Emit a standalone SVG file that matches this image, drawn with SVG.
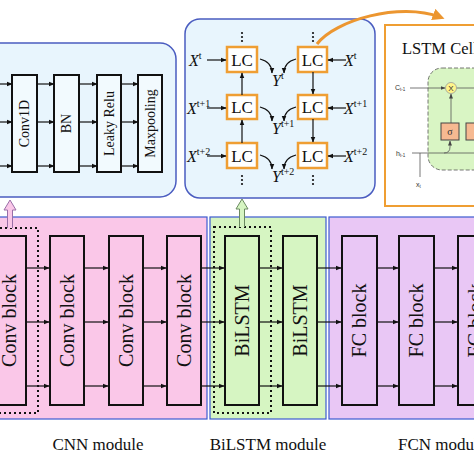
<svg xmlns="http://www.w3.org/2000/svg" width="474" height="474" viewBox="0 0 474 474">
<defs>
<marker id="ah" viewBox="0 0 10 10" refX="9" refY="5" markerWidth="6" markerHeight="6" orient="auto" markerUnits="userSpaceOnUse"><path d="M0,1 L10,5 L0,9 Z" fill="#111"/></marker>
<marker id="ahg" viewBox="0 0 10 10" refX="9" refY="5" markerWidth="5" markerHeight="5" orient="auto" markerUnits="userSpaceOnUse"><path d="M0,1 L10,5 L0,9 Z" fill="#444"/></marker>
<marker id="aho" viewBox="0 0 10 10" refX="6" refY="5" markerWidth="12" markerHeight="12" orient="auto" markerUnits="userSpaceOnUse"><path d="M0,0 L10,5 L0,10 Z" fill="#ec9630"/></marker>
</defs>
<style>
.serif{font-family:"Liberation Serif","Times New Roman",serif;fill:#111}
.panel{fill:#e8f5fd;stroke:#4a5cc0;stroke-width:1.5}
.mod{stroke:#3c5ad0;stroke-width:1.2}
.blk{stroke:#111;stroke-width:2}
.arr{stroke:#111;stroke-width:1.2;fill:none;marker-end:url(#ah)}
.lc{fill:#fff;stroke:#ef9e33;stroke-width:2.5}
.dot{fill:none;stroke:#111;stroke-width:2;stroke-dasharray:2 3}
.thin{stroke:#555;stroke-width:0.8;fill:none}
.sm{font-family:"Liberation Sans",Arial,sans-serif;font-size:7px;fill:#333}
</style>
<rect width="474" height="474" fill="#fff"/>

<g id="cnn-detail">
<rect class="panel" x="-20" y="43" width="196" height="154" rx="16"/>
<rect x="12" y="75" width="25" height="97" fill="#f2fafe" class="blk"/>
<rect x="54" y="75" width="25" height="97" fill="#f2fafe" class="blk"/>
<rect x="97" y="75" width="24" height="97" fill="#f2fafe" class="blk"/>
<rect x="138" y="75" width="24" height="97" fill="#f2fafe" class="blk"/>
<text class="serif" font-size="14" text-anchor="middle" transform="translate(29,123.5) rotate(-90)">Conv1D</text>
<text class="serif" font-size="14" text-anchor="middle" transform="translate(71,123.5) rotate(-90)">BN</text>
<text class="serif" font-size="14" text-anchor="middle" transform="translate(114,123.5) rotate(-90)">Leaky Relu</text>
<text class="serif" font-size="14" text-anchor="middle" transform="translate(155,123.5) rotate(-90)">Maxpooling</text>
</g>

<g id="bilstm-detail">
<rect class="panel" x="185" y="19" width="190" height="179" rx="15"/>
<rect class="lc" x="227" y="47" width="30" height="25"/>
<rect class="lc" x="227" y="95" width="30" height="24"/>
<rect class="lc" x="227" y="143" width="30" height="25"/>
<rect class="lc" x="298" y="47" width="29" height="25"/>
<rect class="lc" x="298" y="95" width="29" height="24"/>
<rect class="lc" x="298" y="143" width="29" height="25"/>
<g class="serif" font-size="17" text-anchor="middle">
<text x="242" y="66">LC</text><text x="242" y="113">LC</text><text x="242" y="162">LC</text>
<text x="312.5" y="66">LC</text><text x="312.5" y="113">LC</text><text x="312.5" y="162">LC</text>
</g>
<g class="serif" font-size="16" font-style="italic">
<text x="189" y="66">X<tspan font-size="10" font-style="normal" dy="-7">t</tspan></text>
<text x="187" y="114">X<tspan font-size="10" font-style="normal" dy="-7">t+1</tspan></text>
<text x="187" y="162">X<tspan font-size="10" font-style="normal" dy="-7">t+2</tspan></text>
<text x="344" y="66">X<tspan font-size="10" font-style="normal" dy="-7">t</tspan></text>
<text x="344" y="114">X<tspan font-size="10" font-style="normal" dy="-7">t+1</tspan></text>
<text x="344" y="162">X<tspan font-size="10" font-style="normal" dy="-7">t+2</tspan></text>
<text x="272" y="86">Y<tspan font-size="10" font-style="normal" dy="-7">t</tspan></text>
<text x="272" y="134">Y<tspan font-size="10" font-style="normal" dy="-7">t+1</tspan></text>
<text x="272" y="182">Y<tspan font-size="10" font-style="normal" dy="-7">t+2</tspan></text>
</g>
<g fill="#111">
<circle cx="242" cy="33" r="1.1"/><circle cx="242" cy="37" r="1.1"/><circle cx="242" cy="41" r="1.1"/>
<circle cx="313" cy="33" r="1.1"/><circle cx="313" cy="37" r="1.1"/><circle cx="313" cy="41" r="1.1"/>
<circle cx="242" cy="176" r="1.1"/><circle cx="242" cy="180" r="1.1"/><circle cx="242" cy="184" r="1.1"/>
<circle cx="313" cy="176" r="1.1"/><circle cx="313" cy="180" r="1.1"/><circle cx="313" cy="184" r="1.1"/>
</g>
</g>

<g id="lstm-cell">
<rect x="385" y="25" width="100" height="181" fill="#fff" stroke="#ef9e33" stroke-width="2"/>
<text class="serif" font-size="16.5" x="402" y="54">LSTM Cell</text>
<rect x="428" y="68" width="70" height="102" rx="14" fill="#d9f5c4" stroke="#555" stroke-width="0.8" stroke-dasharray="4 2"/>
<text class="sm" x="395" y="90">C<tspan font-size="4.5" dy="1">t-1</tspan></text>
<text class="sm" x="396" y="156">h<tspan font-size="4.5" dy="1">t-1</tspan></text>
<text class="sm" x="416" y="187">x<tspan font-size="4.5" dy="1">t</tspan></text>
<path class="thin" d="M410,88 H445" marker-end="url(#ahg)"/>
<path class="thin" d="M456.5,88 H474"/>
<path class="thin" d="M451,123 V94" marker-end="url(#ahg)"/>
<circle cx="451" cy="88" r="5.5" fill="#fff58a" stroke="#999" stroke-width="0.8"/>
<text x="451" y="91" font-family="Liberation Sans,Arial,sans-serif" font-size="8" text-anchor="middle" fill="#333">X</text>
<rect x="441" y="123" width="18" height="17" fill="#f6b991" stroke="#444" stroke-width="1"/>
<rect x="466" y="123" width="18" height="17" fill="#f6b991" stroke="#444" stroke-width="1"/>
<text x="450" y="135" font-family="Liberation Serif,serif" font-size="10" text-anchor="middle" fill="#333">σ</text>
<path class="thin" d="M412,153 H474"/>
<path class="thin" d="M444,153 Q450,153 450,147 L450,141" marker-end="url(#ahg)"/>
<path class="thin" d="M420,153 V177"/>
</g>

<g id="cnn-module">
<rect class="mod" x="-5" y="217" width="212" height="202" fill="#fac7e8"/>
<rect class="blk" x="-8" y="236" width="34" height="169" fill="#fac7e8"/>
<rect class="blk" x="50" y="236" width="34" height="169" fill="#fac7e8"/>
<rect class="blk" x="109" y="236" width="34" height="169" fill="#fac7e8"/>
<rect class="blk" x="167" y="236" width="34" height="169" fill="#fac7e8"/>
<g class="serif" font-size="20" text-anchor="middle">
<text transform="translate(16,320.5) rotate(-90)">Conv block</text>
<text transform="translate(74,320.5) rotate(-90)">Conv block</text>
<text transform="translate(133,320.5) rotate(-90)">Conv block</text>
<text transform="translate(191,320.5) rotate(-90)">Conv block</text>
</g>
<rect class="dot" x="-5" y="228" width="43" height="185"/>
<text class="serif" font-size="17" x="98" y="450" text-anchor="middle">CNN module</text>
</g>

<g id="bilstm-module">
<rect class="mod" x="210" y="217" width="116" height="202" fill="#d6f5c2"/>
<rect class="blk" x="225" y="236" width="34" height="169" fill="#d6f5c2"/>
<rect class="blk" x="283" y="236" width="34" height="169" fill="#d6f5c2"/>
<g class="serif" font-size="20" text-anchor="middle">
<text transform="translate(249,320.5) rotate(-90)">BiLSTM</text>
<text transform="translate(307,320.5) rotate(-90)">BiLSTM</text>
</g>
<rect class="dot" x="214" y="227" width="57" height="186"/>
<text class="serif" font-size="17" x="268" y="450" text-anchor="middle">BiLSTM module</text>
</g>

<g id="fcn-module">
<rect class="mod" x="329" y="217" width="160" height="202" fill="#e9c7f5"/>
<rect class="blk" x="342" y="236" width="35" height="169" fill="#e9c7f5"/>
<rect class="blk" x="399" y="236" width="35" height="169" fill="#e9c7f5"/>
<rect class="blk" x="458" y="236" width="35" height="169" fill="#e9c7f5"/>
<g class="serif" font-size="20" text-anchor="middle">
<text transform="translate(366,320.5) rotate(-90)">FC block</text>
<text transform="translate(423,320.5) rotate(-90)">FC block</text>
<text transform="translate(482,320.5) rotate(-90)">FC block</text>
</g>
<text class="serif" font-size="17" x="398" y="450">FCN module</text>
</g>

<g id="connectors">
<g class="arr">
<path d="M0,84 H12"/><path d="M37,84 H54"/><path d="M79,84 H97"/><path d="M121,84 H138"/>
<path d="M0,122 H12"/><path d="M37,122 H54"/><path d="M79,122 H97"/><path d="M121,122 H138"/>
<path d="M0,166 H12"/><path d="M37,166 H54"/><path d="M79,166 H97"/><path d="M121,166 H138"/>
<path d="M207,60 H226"/><path d="M207,108 H226"/><path d="M207,156 H226"/>
<path d="M346,60 H328"/><path d="M346,108 H328"/><path d="M346,156 H328"/>
<path d="M242,95 V73"/><path d="M242,143 V120"/>
<path d="M313,72 V94"/><path d="M313,119 V142"/>
<path d="M260,59 Q272,62 272,73"/><path d="M260,107 Q272,110 272,121"/><path d="M260,155 Q272,158 272,169"/>
<path d="M296,59 Q284,62 284,73"/><path d="M296,107 Q284,110 284,121"/><path d="M296,155 Q284,158 284,169"/>
<path d="M27,268 H49"/><path d="M85,268 H108"/><path d="M144,268 H166"/><path d="M202,268 H224"/><path d="M260,268 H282"/><path d="M318,268 H341"/><path d="M378,268 H398"/><path d="M435,268 H457"/>
<path d="M27,322 H49"/><path d="M85,322 H108"/><path d="M144,322 H166"/><path d="M202,322 H224"/><path d="M260,322 H282"/><path d="M318,322 H341"/><path d="M378,322 H398"/><path d="M435,322 H457"/>
<path d="M27,386 H49"/><path d="M85,386 H108"/><path d="M144,386 H166"/><path d="M202,386 H224"/><path d="M260,386 H282"/><path d="M318,386 H341"/><path d="M378,386 H398"/><path d="M435,386 H457"/>
</g>
<path d="M7.5,228 V210 H4 L10,200 L16,210 H12.5 V228" fill="#fac7e8" stroke="#9a6fa8" stroke-width="1"/>
<path d="M239.5,227 V209 H236 L242,199 L248,209 H244.5 V227" fill="#d6f5c2" stroke="#6a8a60" stroke-width="1"/>
<path d="M317,44 C335,20 400,2 440,17" fill="none" stroke="#ec9630" stroke-width="3" marker-end="url(#aho)"/>
</g>
</svg>
